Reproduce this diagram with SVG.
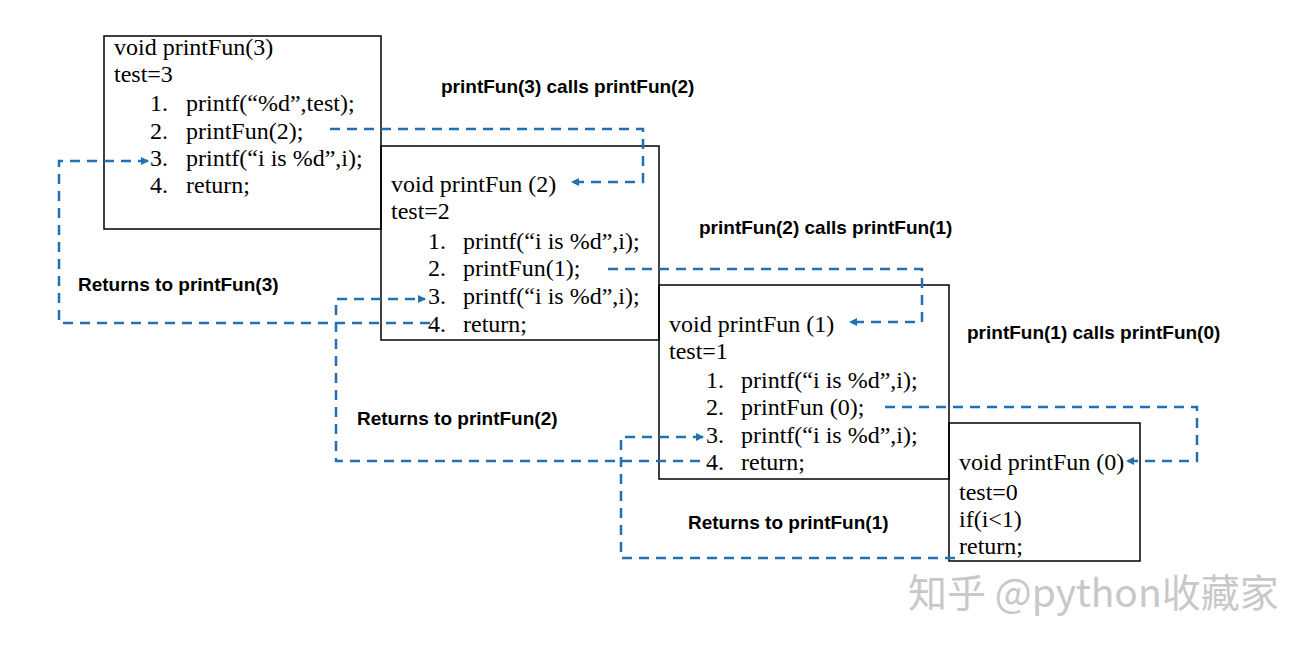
<svg xmlns="http://www.w3.org/2000/svg" width="1316" height="650" viewBox="0 0 1316 650">
<style>
.box{fill:none;stroke:#000;stroke-width:1.5}
.c{font-family:"Liberation Serif",serif;font-size:24px;fill:#000}
.l{font-family:"Liberation Sans",Arial,sans-serif;font-size:19px;font-weight:bold;fill:#000}
.d{fill:none;stroke:#1f70b5;stroke-width:2.5;stroke-dasharray:10,7}
</style>
<defs><marker id="a" markerWidth="8" markerHeight="8" refX="7" refY="4" orient="auto" markerUnits="userSpaceOnUse"><path d="M0,0L8,4L0,8Z" fill="#1f70b5"/></marker></defs>
<rect width="1316" height="650" fill="#fff"/>
<g id="n3"><rect class="box" x="104" y="36" width="277" height="193"/>
<text class="c" x="114" y="55">void printFun(3)</text><text class="c" x="114" y="82">test=3</text>
<text class="c" x="150" y="111">1.</text><text class="c" x="186" y="111">printf(“%d”,test);</text>
<text class="c" x="150" y="139">2.</text><text class="c" x="186" y="139">printFun(2);</text>
<text class="c" x="150" y="166">3.</text><text class="c" x="186" y="166">printf(“i is %d”,i);</text>
<text class="c" x="150" y="193">4.</text><text class="c" x="186" y="193">return;</text></g>
<g id="n2"><rect class="box" x="381" y="146" width="278" height="194"/>
<text class="c" x="391" y="192">void printFun (2)</text><text class="c" x="391" y="219">test=2</text>
<text class="c" x="428" y="249">1.</text><text class="c" x="463" y="249">printf(“i is %d”,i);</text>
<text class="c" x="428" y="276">2.</text><text class="c" x="463" y="276">printFun(1);</text>
<text class="c" x="428" y="304">3.</text><text class="c" x="463" y="304">printf(“i is %d”,i);</text>
<text class="c" x="428" y="332">4.</text><text class="c" x="463" y="332">return;</text></g>
<g id="n1"><rect class="box" x="659" y="285" width="290" height="194"/>
<text class="c" x="669" y="332">void printFun (1)</text><text class="c" x="669" y="359">test=1</text>
<text class="c" x="706" y="388">1.</text><text class="c" x="741" y="388">printf(“i is %d”,i);</text>
<text class="c" x="706" y="415">2.</text><text class="c" x="741" y="415">printFun (0);</text>
<text class="c" x="706" y="443">3.</text><text class="c" x="741" y="443">printf(“i is %d”,i);</text>
<text class="c" x="706" y="470">4.</text><text class="c" x="741" y="470">return;</text></g>
<g id="n0"><rect class="box" x="949" y="423" width="191" height="138"/>
<text class="c" x="959" y="470">void printFun (0)</text><text class="c" x="959" y="500">test=0</text>
<text class="c" x="959" y="527">if(i&lt;1)</text><text class="c" x="959" y="554">return;</text></g>
<g id="connectors">
<path class="d" d="M330,129H643V182H572" marker-end="url(#a)"/>
<path class="d" d="M608,269H922V322H850" marker-end="url(#a)"/>
<path class="d" d="M885,407H1197V461H1127" marker-end="url(#a)"/>
<path class="d" d="M430,323H59V161H148" marker-end="url(#a)"/>
<path class="d" d="M700,461H336V299H425" marker-end="url(#a)"/>
<path class="d" d="M955,558H621V437H703" marker-end="url(#a)"/>
</g>
<g id="labels">
<text class="l" x="441" y="93">printFun(3) calls printFun(2)</text>
<text class="l" x="699" y="234">printFun(2) calls printFun(1)</text>
<text class="l" x="967" y="339">printFun(1) calls printFun(0)</text>
<text class="l" x="78" y="291">Returns to printFun(3)</text>
<text class="l" x="357" y="425">Returns to printFun(2)</text>
<text class="l" x="688" y="529">Returns to printFun(1)</text>
</g>
<text x="908" y="607" font-family="'Noto Sans CJK SC',sans-serif" font-size="39" fill="#c8c8c8">知乎 @python收藏家</text>
</svg>
